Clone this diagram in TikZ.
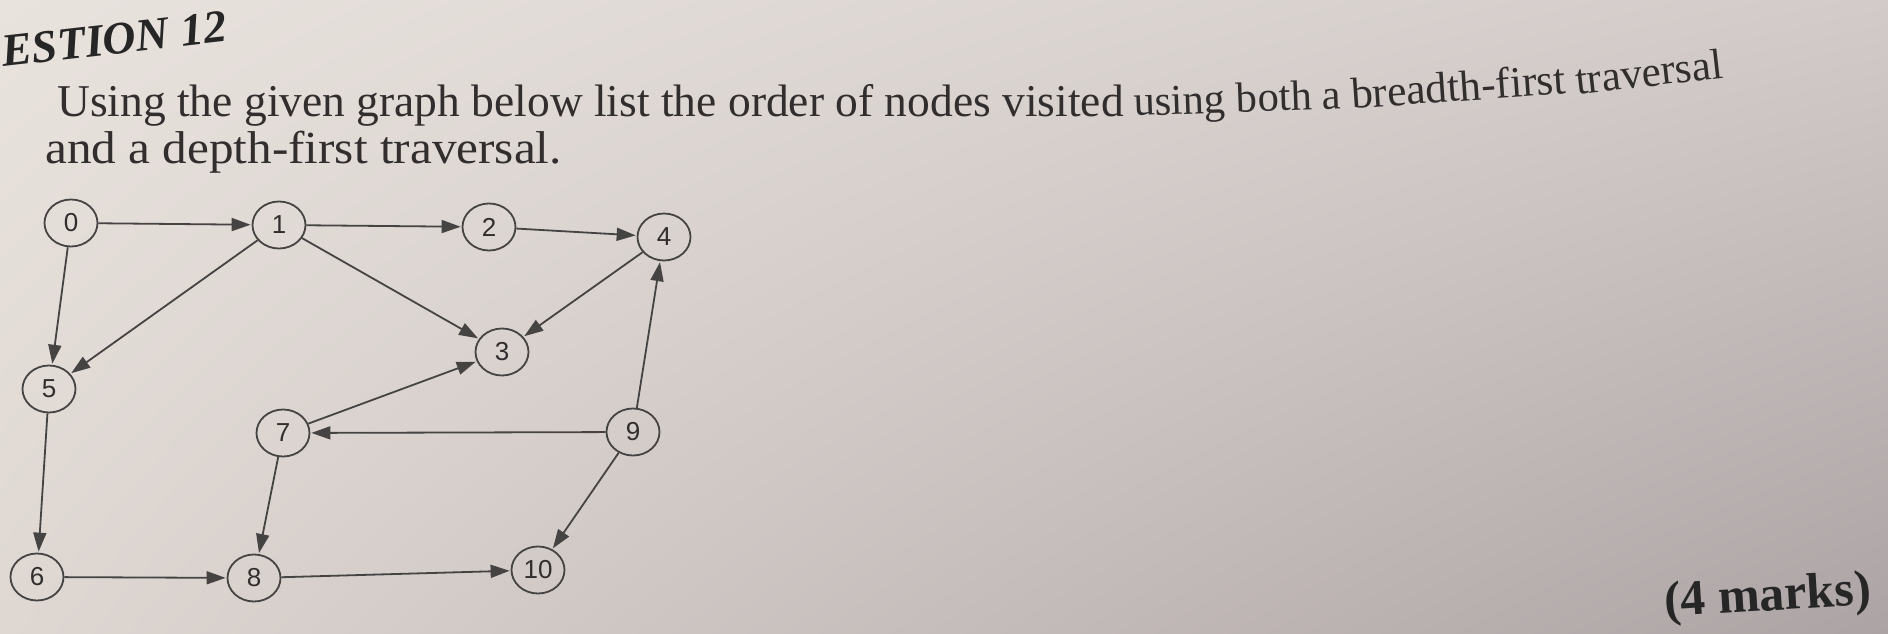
\documentclass[tikz,border=0pt]{standalone}
\usepackage{fontspec}
\setmainfont{Liberation Serif}
\newfontfamily\digitfont{Liberation Sans}
\usetikzlibrary{arrows.meta,shapes.geometric,shadings}
\definecolor{bgUL}{RGB}{233,227,222}
\definecolor{bgUR}{RGB}{210,203,201}
\definecolor{bgLL}{RGB}{222,215,210}
\definecolor{bgLR}{RGB}{172,163,164}
\definecolor{inkc}{RGB}{50,46,46}
\definecolor{linec}{RGB}{70,67,67}
\tikzset{
  txt/.style={text=inkc, inner sep=0pt, font=\fontsize{46}{50}\selectfont},
  gnode/.style={ellipse, draw=linec, line width=1.8pt, minimum width=53pt, minimum height=47pt, inner sep=0pt, text=inkc, font=\digitfont\fontsize{26}{28}\selectfont},
  edge/.style={draw=linec, line width=1.8pt, -{Triangle[length=19pt,width=13pt]}, shorten >=1pt}
}
\begin{document}
\begin{tikzpicture}[x=1pt,y=-1pt]
\useasboundingbox (0,0) rectangle (1888,634);
\shade[upper left=bgUL, upper right=bgUR, lower left=bgLL, lower right=bgLR] (0,0) rectangle (1888,634);
% heading and question
\node[txt, anchor=base west, rotate=6.5, font=\bfseries\itshape\fontsize{46}{50}\selectfont, text=black!85] (head) at (3,67) {ESTION 12};
\node[txt, anchor=base west, font=\fontsize{45.5}{50}\selectfont] (l1a) at (57,116) {Using the given graph below list the order of nodes visited};
\node[txt, anchor=base west, rotate=2, font=\fontsize{42.5}{46}\selectfont] (l1b) at ([xshift=10pt]l1a.base east) {using both a};
\node[txt, anchor=base west, rotate=4, font=\fontsize{43.5}{46}\selectfont] (l1c) at ([xshift=10pt]l1b.base east) {breadth-first};
\node[txt, anchor=base west, rotate=6.5, font=\fontsize{43}{46}\selectfont] (l1d) at ([xshift=10pt,yshift=-1pt]l1c.base east) {traversal};
\node[txt, anchor=base west] (l2) at (45,163) {\scalebox{1.07}[1]{and a depth-first traversal.}};
\node[txt, anchor=base west, rotate=3.5, font=\bfseries\fontsize{50}{54}\selectfont, text=black!85] (marks) at (1665,617) {(4 marks)};
% graph nodes
\node[gnode] (n0) at (71,223) {0};
\node[gnode] (n1) at (279,225) {1};
\node[gnode] (n2) at (489,227) {2};
\node[gnode] (n4) at (664,237) {4};
\node[gnode] (n3) at (502,352) {3};
\node[gnode] (n5) at (49,389) {5};
\node[gnode] (n7) at (283,433) {7};
\node[gnode] (n9) at (633,432) {9};
\node[gnode] (n6) at (37,577) {6};
\node[gnode] (n8) at (254,578) {8};
\node[gnode] (n10) at (538,570) {10};
% edges
\draw[edge] (n0) -- (n1);
\draw[edge] (n0) -- (n5);
\draw[edge] (n1) -- (n2);
\draw[edge] (n1) -- (n5);
\draw[edge] (n1) -- (n3);
\draw[edge] (n2) -- (n4);
\draw[edge] (n4) -- (n3);
\draw[edge] (n7) -- (n3);
\draw[edge] (n9) -- (n4);
\draw[edge] (n9) -- (n7);
\draw[edge] (n9) -- (n10);
\draw[edge] (n7) -- (n8);
\draw[edge] (n5) -- (n6);
\draw[edge] (n6) -- (n8);
\draw[edge] (n8) -- (n10);
\end{tikzpicture}
\end{document}
